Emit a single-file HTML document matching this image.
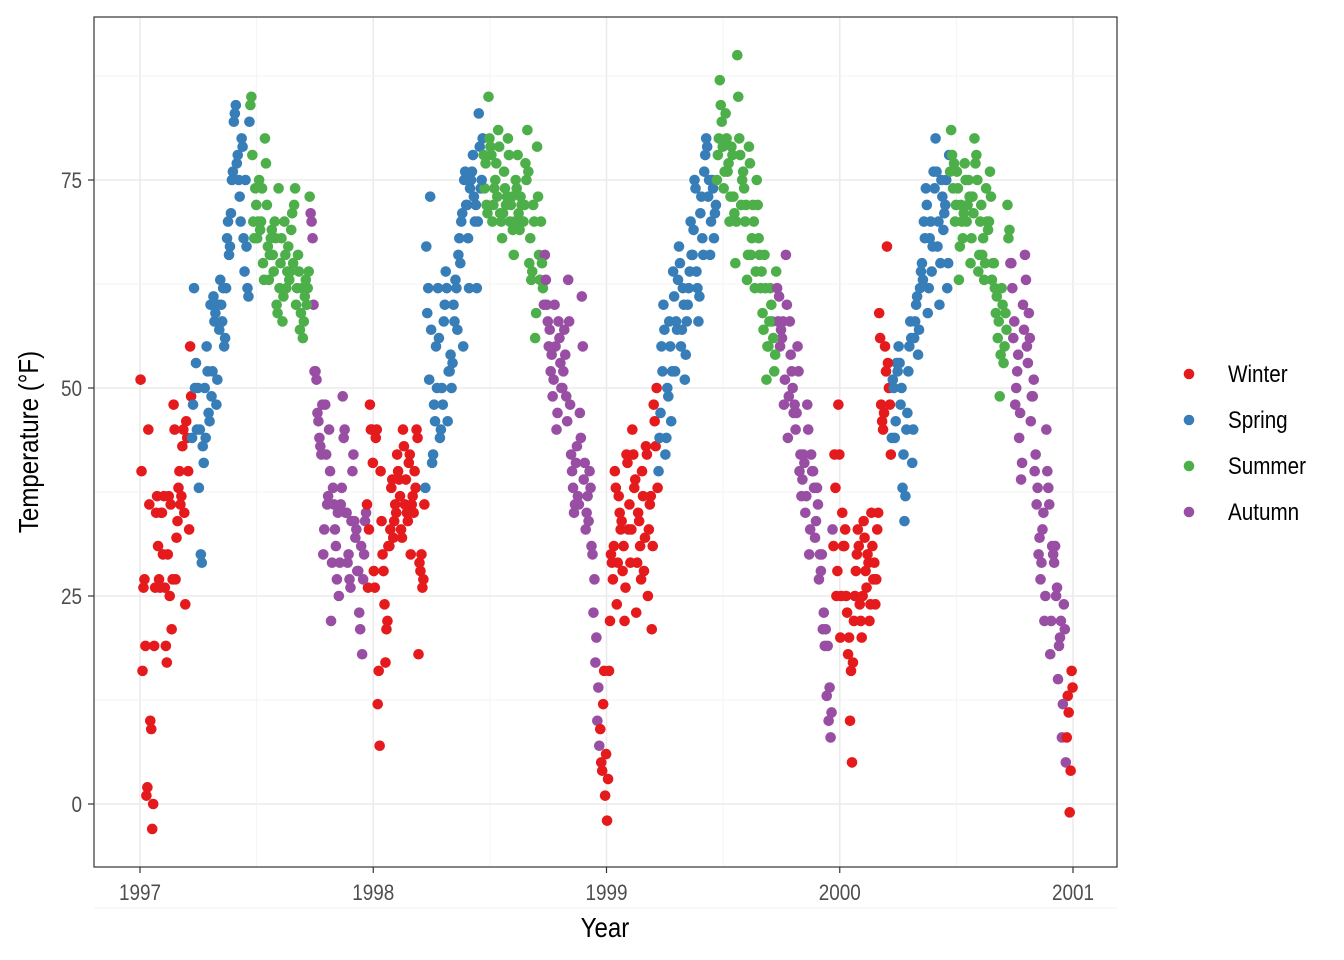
<!DOCTYPE html>
<html><head><meta charset="utf-8"><style>
html,body{margin:0;padding:0;background:#fff}
svg{display:block;font-family:"Liberation Sans",sans-serif}
</style></head><body>
<svg id="chart" width="1344" height="960" viewBox="0 0 1344 960">
<rect x="94" y="17" width="1023" height="850" fill="#fff"/>
<g id="grid"></g>
<g id="points"></g>
<rect x="94" y="17" width="1023" height="850" fill="none" stroke="#333" stroke-width="1.2"/>
<g id="axes"></g>
<text x="0" y="0" text-anchor="middle" font-size="28" transform="translate(605 937) scale(0.86 1)">Year</text>
<text x="0" y="0" text-anchor="middle" font-size="28" transform="translate(38 442) rotate(-90) scale(0.86 1)">Temperature (°F)</text>
<g id="legend"></g>
</svg>
<script>
const years = [1997, 1998, 1999, 2000];
const seasonNames = ["Winter", "Spring", "Summer", "Autumn"];
const seasonColors = ["#E41A1C", "#377EB8", "#4DAF4A", "#984EA3"];
const xTicks = [1997, 1998, 1999, 2000, 2001];
const yTicks = [0, 25, 50, 75];
const temps1997 = [51,16,27,1,45,10,-3,19,35,31, 26,35,37,19,30,25,21,48,27,34, 40,37,45,24,44,33,49,48,50,45,
 38,30,43,50,55,47,60,52,58,48, 60,63,58,55,62,70,67,75,82,84, 78,73,80,68,75,62,82,85,70,74,
 68,75,70,65,80,72,63,68,66,70, 60,74,65,58,70,62,67,64,71,72, 60,66,57,62,58,63,62,73,70,60,
 52,47,44,42,30,48,36,45,22,38, 33,27,25,36,49,45,35,30,26,40, 34,33,28,21,18,30,35,26,48,45];
const temps1998 = [28,44,12,7,34,28,17,22,31,38, 32,36,42,39,33,45,36,35,41,30, 37,40,45,18,28,26,36,67,62,73,
 41,48,55,62,44,50,58,64,46,52, 50,60,63,57,68,70,55,76,72,62, 75,78,70,62,83,74,80,74,72,85,
 79,70,74,77,81,71,68,76,72,80, 70,73,66,75,78,69,72,70,77,81, 65,63,72,56,79,66,70,62,66,60,
 55,52,49,60,45,58,53,50,57,49, 63,48,40,35,41,37,47,61,39,33, 37,40,31,23,17,10,7,5,12,1];
const temps1999 = [-2,16,30,27,40,24,37,33,28,22, 42,33,29,45,38,23,35,31,40,28, 43,25,36,21,48,43,38,44,55,60,
 42,50,58,46,64,52,57,67,55,62, 51,58,62,70,66,75,64,58,71,68, 76,80,73,66,75,68,72,78,87,82,
 74,83,76,70,79,73,65,90,80,72, 76,70,63,79,66,72,62,75,68,62, 59,66,51,55,62,58,52,64,58,55,
 56,48,66,44,58,52,47,45,55,40, 37,42,35,48,30,42,40,32,38,27, 28,21,19,13,10,8,33,42,25,48];
const temps2000 = [20,35,31,25,18,10,5,22,28,33, 24,20,34,28,30,22,35,27,24,33, 59,48,45,55,67,50,42,51,44,53,
 55,48,38,34,45,52,58,41,56,60, 54,62,65,70,74,59,68,64,76,80, 67,60,75,69,72,62,78,81,74,70,
 76,63,72,68,77,70,75,65,73,80, 78,64,70,66,63,74,69,76,63,65, 59,56,49,62,53,59,72,69,65,56,
 48,52,44,39,60,66,55,59,46,49, 40,36,30,27,33,22,45,38,18,31, 29,25,15,20,8,24,5,13,-1,16];
const tempsB1997 = [40,26,19,2,36,9,0,26,37,27, 35,30,26,17,37,36,27,45,32,38, 36,43,35,46,40,55,44,62,53,50,
 45,29,41,44,52,46,49,61,59,51, 57,60,62,56,68,66,71,76,83,77, 75,70,79,64,67,61,84,78,68,72,
 70,69,74,63,77,67,66,69,64,68, 59,62,68,61,66,64,63,69,65,74, 62,64,59,56,61,60,64,71,68,52,
 51,46,43,48,33,42,37,40,29,36, 31,35,29,38,44,35,29,27,34,42, 32,28,23,31,27,34,36,33,45,41];
const tempsB1998 = [26,45,16,40,30,24,21,31,33,39, 34,35,40,37,32,43,39,34,42,36, 35,38,44,29,30,27,38,59,51,57,
 42,46,50,56,45,48,60,62,52,54, 53,58,62,66,65,71,75,72,68,74, 76,73,72,70,79,75,78,77,71,80,
 78,72,75,73,79,70,71,74,73,78, 72,69,70,74,71,73,70,72,75,76, 68,64,70,59,73,63,65,60,63,58,
 57,54,51,55,47,56,50,52,54,46, 58,42,38,36,43,36,44,55,41,35, 34,38,30,27,20,14,9,4,16,6];
const tempsB1999 = [3,22,29,31,38,29,35,34,31,26, 41,36,33,42,39,29,34,27,37,32, 42,33,37,31,46,50,40,47,52,57,
 44,49,55,52,61,58,63,65,57,60, 54,60,64,66,69,74,62,61,73,66, 78,79,75,70,74,71,75,80,84,79,
 76,80,77,73,78,71,70,85,78,75, 74,72,66,77,68,70,64,72,66,64, 57,62,55,58,60,56,54,62,61,57,
 58,51,60,49,54,50,48,47,52,42, 39,41,37,45,33,40,38,34,36,30, 30,23,21,19,14,11,31,38,28,42];
const tempsB2000 = [25,31,33,23,20,16,17,25,30,31, 22,25,32,26,29,24,31,29,27,35, 56,46,47,52,53,48,44,50,46,52,
 53,50,42,37,47,55,56,45,58,61, 57,64,63,68,72,62,70,67,74,76, 70,65,73,71,75,65,76,78,77,72,
 74,67,70,71,75,72,73,68,71,77, 75,66,72,68,65,70,70,73,65,62, 61,58,54,60,55,57,68,65,62,58,
 50,54,47,41,57,63,53,56,49,51, 42,38,32,29,35,25,40,36,22,30, 31,26,19,22,12,21,8,11,4,14];
const passA = [temps1997, temps1998, temps1999, temps2000];
const passB = [tempsB1997, tempsB1998, tempsB1999, tempsB2000];

const NS = "http://www.w3.org/2000/svg";
const X0 = 140, X1 = 1073, Y0 = 804, Y75 = 180;
const xScale = v => X0 + (v - 1997) * (X1 - X0) / 4;
const yScale = v => Y0 + v * (Y75 - Y0) / 75;
function mk(tag, attrs, parent) {
  const e = document.createElementNS(NS, tag);
  for (const k in attrs) e.setAttribute(k, attrs[k]);
  parent.appendChild(e);
  return e;
}
const grid = document.getElementById("grid");
for (let i = 0; i < xTicks.length; i++) {
  const l = mk("line", {x1: xScale(xTicks[i]), x2: xScale(xTicks[i]), y1: 17, y2: 867, stroke: "#ebebeb", "stroke-width": 1.6}, grid);
  
  
  if (i < xTicks.length - 1) {
    const m = mk("line", {x1: xScale(xTicks[i] + 0.5), x2: xScale(xTicks[i] + 0.5), y1: 17, y2: 867, stroke: "#f3f3f3", "stroke-width": 0.9}, grid);
    
    
  }
}
for (let v = -12.5; v <= 87.5; v += 12.5) {
  const major = v % 25 === 0;
  const l = mk("line", {x1: 94, x2: 1117, y1: yScale(v), y2: yScale(v), stroke: major ? "#ebebeb" : "#f3f3f3", "stroke-width": major ? 1.6 : 0.9}, grid);
  
  
}
function seasonOf(frac) {
  const day = frac * 365;
  if (day < 80) return 0;
  if (day < 172) return 1;
  if (day < 266) return 2;
  if (day < 355) return 3;
  return 0;
}
const pts = document.getElementById("points");
function drawPass(passes, offset) {
  for (let y = 0; y < years.length; y++) {
    const arr = passes[y];
    for (let i = 0; i < arr.length; i++) {
      const frac = (i + offset) / arr.length;
      const s = seasonOf(frac);
      const c = mk("circle", {cx: xScale(years[y] + frac), cy: yScale(arr[i]), r: 5.3, fill: seasonColors[s]}, pts);
      
      
    }
  }
}
drawPass(passA, 0.3);
drawPass(passB, 0.8);
const axes = document.getElementById("axes");
for (const t of xTicks) {
  const l = mk("line", {x1: xScale(t), x2: xScale(t), y1: 867, y2: 873, stroke: "#333", "stroke-width": 1.2}, axes);
  
  
  const tx = mk("text", {x: 0, y: 0, "text-anchor": "middle", "font-size": 22, fill: "#4d4d4d", transform: `translate(${xScale(t)} 900) scale(0.86 1)`}, axes);
  tx.textContent = t;
  
  
}
for (const t of yTicks) {
  const l = mk("line", {x1: 88, x2: 94, y1: yScale(t), y2: yScale(t), stroke: "#333", "stroke-width": 1.2}, axes);
  
  
  const tx = mk("text", {x: 0, y: 0, "text-anchor": "end", "font-size": 22, fill: "#4d4d4d", transform: `translate(82 ${yScale(t) + 8}) scale(0.86 1)`}, axes);
  tx.textContent = t;
  
  
}
const leg = document.getElementById("legend");
for (let s = 0; s < 4; s++) {
  const cy = 374 + s * 46;
  const c = mk("circle", {cx: 1189, cy: cy, r: 5.3, fill: seasonColors[s]}, leg);
  
  
  const tx = mk("text", {x: 0, y: 0, "font-size": 24, fill: "#000", transform: `translate(1228 ${cy + 8}) scale(0.86 1)`}, leg);
  tx.textContent = seasonNames[s];
  
  
}
</script>
</body></html>
